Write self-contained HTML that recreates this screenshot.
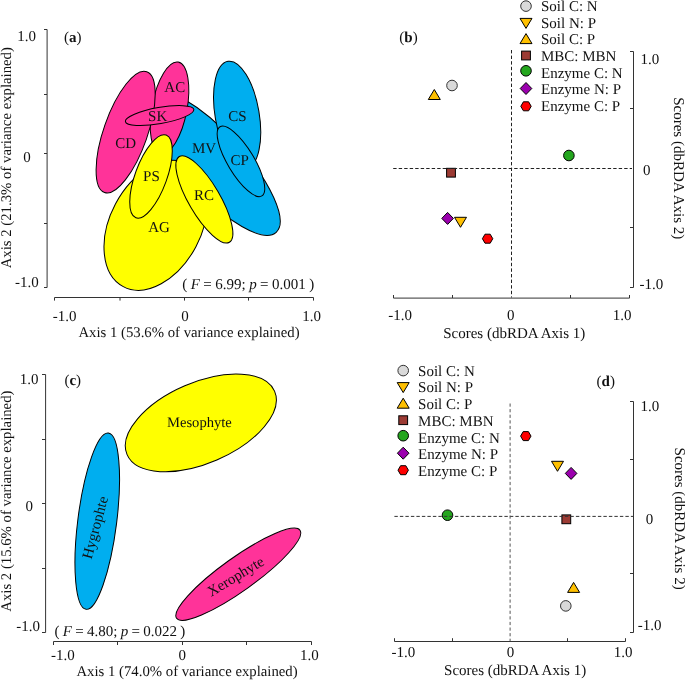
<!DOCTYPE html>
<html><head><meta charset="utf-8"><style>
html,body{margin:0;padding:0;background:#fff;}
svg{display:block;}
text{font-family:"Liberation Serif","Times New Roman",serif;font-size:15px;fill:#111;text-rendering:geometricPrecision;}
</style></head><body>
<svg width="685" height="681" viewBox="0 0 685 681">
<rect width="685" height="681" fill="#fff"/>
<ellipse cx="213.35" cy="163.12" rx="93.46" ry="30.46" transform="rotate(-132.26 213.35 163.12)" fill="#00AEEF" stroke="#000" stroke-width="1.0"/>
<ellipse cx="237.14" cy="114.87" rx="22.04" ry="54.36" transform="rotate(-9.72 237.14 114.87)" fill="#00AEEF" stroke="#000" stroke-width="1.0"/>
<ellipse cx="240.96" cy="161.34" rx="13.16" ry="40.43" transform="rotate(-31.17 240.96 161.34)" fill="#00AEEF" stroke="#000" stroke-width="1.0"/>
<ellipse cx="169.53" cy="107.91" rx="17.53" ry="46.71" transform="rotate(-169.27 169.53 107.91)" fill="#FF3399" stroke="#000" stroke-width="1.0"/>
<ellipse cx="125.64" cy="132.08" rx="63.95" ry="21.91" transform="rotate(-70.73 125.64 132.08)" fill="#FF3399" stroke="#000" stroke-width="1.0"/>
<ellipse cx="159.62" cy="115.54" rx="34.77" ry="8.05" transform="rotate(-10.08 159.62 115.54)" fill="#FF3399" stroke="#000" stroke-width="1.0"/>
<ellipse cx="155.67" cy="225.38" rx="45.54" ry="69.26" transform="rotate(-152.11 155.67 225.38)" fill="#FFFF00" stroke="#000" stroke-width="1.0"/>
<ellipse cx="151.02" cy="176.46" rx="44.07" ry="15.88" transform="rotate(-69.86 151.02 176.46)" fill="#FFFF00" stroke="#000" stroke-width="1.0"/>
<ellipse cx="204.37" cy="199.42" rx="49.64" ry="15.73" transform="rotate(-120.29 204.37 199.42)" fill="#FFFF00" stroke="#000" stroke-width="1.0"/>
<text x="164.3" y="91.6">AC</text>
<text x="148.1" y="121.3">SK</text>
<text x="115.3" y="147.8">CD</text>
<text x="228.3" y="120.8">CS</text>
<text x="192.0" y="152.9">MV</text>
<text x="230.6" y="165.2">CP</text>
<text x="143.1" y="181.1">PS</text>
<text x="194.1" y="199.9">RC</text>
<text x="148.2" y="232.2">AG</text>
<path d="M44 29.5H47.1V287.5H44 M44 94.5H47 M44 153.5H47 M44 223.5H47" fill="none" stroke="#333" stroke-width="1"/>
<path d="M54.5 300.6V297.5H313.5V300.6 M120 297.5V300.6 M184.5 297.5V300.6 M248.5 297.5V300.6" fill="none" stroke="#333" stroke-width="1"/>
<text x="17.3" y="41">1.0</text><text x="23.2" y="162">0</text><text x="38.8" y="287" text-anchor="end">-1.0</text>
<text x="52.8" y="321">-1.0</text><text x="181.3" y="321">0</text><text x="302.3" y="321">1.0</text>
<text x="189" y="337.2" text-anchor="middle" style="font-size:14.75px">Axis 1 (53.6% of variance explained)</text>
<text transform="translate(11 157.7) rotate(-90)" text-anchor="middle" style="font-size:14.75px">Axis 2 (21.3% of variance explained)</text>
<text x="64" y="41.7">(<tspan font-weight="bold">a</tspan>)</text>
<text x="182.3" y="288.6" word-spacing="-0.3">( <tspan font-style="italic">F</tspan> = 6.99; <tspan font-style="italic">p</tspan> = 0.001 )</text>
<circle cx="452" cy="85.5" r="5.3" fill="#D9D9D9" stroke="#333" stroke-width="1"/>
<path d="M428.3 99.5H440.3L434.3 89.5Z" fill="#FFC000" stroke="#000" stroke-width="1"/>
<circle cx="568.9" cy="155.5" r="5.3" fill="#24A61E" stroke="#000" stroke-width="1"/>
<rect x="446.6" y="168.29999999999998" width="8.8" height="8.8" fill="#9C3B34" stroke="#000" stroke-width="1"/>
<path d="M441.8 218.4L447.6 212.4L453.40000000000003 218.4L447.6 224.4Z" fill="#9B00AE" stroke="#000" stroke-width="1"/>
<path d="M454.5 217.3H466.5L460.5 227.3Z" fill="#FFC000" stroke="#000" stroke-width="1" stroke-linejoin="miter"/>
<polygon points="492.80,238.70 490.20,243.20 485.00,243.20 482.40,238.70 485.00,234.20 490.20,234.20" fill="#FF0000" stroke="#000" stroke-width="1"/>
<path d="M393.2 168.5H632" stroke="#222" stroke-width="1.1" stroke-dasharray="3.4 2.1"/>
<path d="M511.5 50V297.5" stroke="#222" stroke-width="1" stroke-dasharray="3.4 2.2"/>
<path d="M630 51.5H633.5V287.5H630 M630 108.5H633.5 M630 227.5H633.5" fill="none" stroke="#333" stroke-width="1"/>
<path d="M393.5 295V298.1H629.5V295 M452.5 298V295 M570.5 298V295" fill="none" stroke="#333" stroke-width="1"/>
<text x="640.5" y="64.4">1.0</text><text x="643" y="175">0</text><text x="639.5" y="288.6">-1.0</text>
<text x="388.3" y="319.6">-1.0</text><text x="507" y="320">0</text><text x="612.8" y="320">1.0</text>
<text x="514.2" y="338.4" text-anchor="middle">Scores (dbRDA Axis 1)</text>
<text transform="translate(674.4 168.2) rotate(90)" text-anchor="middle">Scores (dbRDA Axis 2)</text>
<text x="399.3" y="41.9">(<tspan font-weight="bold">b</tspan>)</text>
<circle cx="526" cy="6.1" r="5.3" fill="#D9D9D9" stroke="#333" stroke-width="1"/>
<text x="541" y="11.0">Soil C: N</text>
<path d="M520 18.4H532L526 28.4Z" fill="#FFC000" stroke="#000" stroke-width="1" stroke-linejoin="miter"/>
<text x="541" y="27.68">Soil N: P</text>
<path d="M520 43.6H532L526 33.6Z" fill="#FFC000" stroke="#000" stroke-width="1"/>
<text x="541" y="44.36">Soil C: P</text>
<rect x="521.6" y="51.1" width="8.8" height="8.8" fill="#9C3B34" stroke="#000" stroke-width="1"/>
<text x="541" y="61.04">MBC: MBN</text>
<circle cx="526" cy="70.8" r="5.3" fill="#24A61E" stroke="#000" stroke-width="1"/>
<text x="541" y="77.72">Enzyme C: N</text>
<path d="M520.2 88.5L526 82.5L531.8 88.5L526 94.5Z" fill="#9B00AE" stroke="#000" stroke-width="1"/>
<text x="541" y="94.4">Enzyme N: P</text>
<polygon points="531.20,106.30 528.60,110.80 523.40,110.80 520.80,106.30 523.40,101.80 528.60,101.80" fill="#FF0000" stroke="#000" stroke-width="1"/>
<text x="541" y="111.08">Enzyme C: P</text>
<ellipse cx="200.82" cy="422.90" rx="80.29" ry="40.47" transform="rotate(-23.30 200.82 422.90)" fill="#FFFF00" stroke="#000" stroke-width="1.0"/>
<ellipse cx="97.25" cy="521.19" rx="88.85" ry="19.44" transform="rotate(-82.78 97.25 521.19)" fill="#00AEEF" stroke="#000" stroke-width="1.0"/>
<ellipse cx="238.29" cy="574.30" rx="75.79" ry="16.68" transform="rotate(-35.52 238.29 574.30)" fill="#FF3399" stroke="#000" stroke-width="1.0"/>
<text x="199.4" y="427.2" text-anchor="middle" style="font-size:14.6px">Mesophyte</text>
<text transform="translate(95 527.5) rotate(-75)" text-anchor="middle" dy="5">Hygrophte</text>
<text transform="translate(235.5 576.3) rotate(-31)" text-anchor="middle" dy="5">Xerophyte</text>
<path d="M42 374.5H45.6V632.5H42 M42 439.5H45.6 M42 503.5H45.6 M42 568.5H45.6" fill="none" stroke="#333" stroke-width="1"/>
<path d="M53.5 645V641.5H311.5V645 M117.5 641.5V645 M182.5 641.5V645 M246.5 641.5V645" fill="none" stroke="#333" stroke-width="1"/>
<text x="19.7" y="384.2">1.0</text><text x="25.4" y="510.6">0</text><text x="39.9" y="630.7" text-anchor="end">-1.0</text>
<text x="51" y="659.5">-1.0</text><text x="178.5" y="659.5">0</text><text x="300" y="659.5">1.0</text>
<text x="187.05" y="676.3" text-anchor="middle" style="font-size:14.75px">Axis 1 (74.0% of variance explained)</text>
<text transform="translate(11 501.15) rotate(-90)" text-anchor="middle" style="font-size:14.75px">Axis 2 (15.6% of variance explained)</text>
<text x="64.4" y="385.2">(<tspan font-weight="bold">c</tspan>)</text>
<text x="54.4" y="635.9" word-spacing="-0.45">( <tspan font-style="italic">F</tspan> = 4.80; <tspan font-style="italic">p</tspan> = 0.022 )</text>
<polygon points="531.00,436.10 528.40,440.60 523.20,440.60 520.60,436.10 523.20,431.60 528.40,431.60" fill="#FF0000" stroke="#000" stroke-width="1"/>
<path d="M551.5 461.3H563.5L557.5 471.3Z" fill="#FFC000" stroke="#000" stroke-width="1" stroke-linejoin="miter"/>
<path d="M565.3000000000001 473.4L571.1 467.4L576.9 473.4L571.1 479.4Z" fill="#9B00AE" stroke="#000" stroke-width="1"/>
<circle cx="447.5" cy="515.2" r="5.3" fill="#24A61E" stroke="#000" stroke-width="1"/>
<rect x="561.9" y="514.9" width="8.8" height="8.8" fill="#9C3B34" stroke="#000" stroke-width="1"/>
<path d="M567.6 592.4H579.6L573.6 582.4Z" fill="#FFC000" stroke="#000" stroke-width="1"/>
<circle cx="565.8" cy="605.9" r="5.3" fill="#D9D9D9" stroke="#333" stroke-width="1"/>
<path d="M394.4 516.4H633" stroke="#333" stroke-width="1" stroke-dasharray="3.4 2.1"/>
<path d="M510.1 403.5V641" stroke="#555" stroke-width="1" stroke-dasharray="3.2 2.4"/>
<path d="M630 401.5H633.5V632.5H630 M630 459.5H633.5 M630 573.5H633.5" fill="none" stroke="#333" stroke-width="1"/>
<path d="M394.5 638.2V641.5H625.5V638.2 M452.5 641.5V638.2 M567.5 641.5V638.2" fill="none" stroke="#333" stroke-width="1"/>
<text x="640.5" y="411.2">1.0</text><text x="645.8" y="524">0</text><text x="637.8" y="630.1">-1.0</text>
<text x="391.6" y="657.1">-1.0</text><text x="506.8" y="657.1">0</text><text x="613.8" y="657.1">1.0</text>
<text x="515.1" y="675.2" text-anchor="middle">Scores (dbRDA Axis 1)</text>
<text transform="translate(674.7 518.6) rotate(90)" text-anchor="middle">Scores (dbRDA Axis 2)</text>
<text x="596.6" y="385.7">(<tspan font-weight="bold">d</tspan>)</text>
<circle cx="403.2" cy="370.6" r="5.3" fill="#D9D9D9" stroke="#333" stroke-width="1"/>
<text x="418.1" y="375.7">Soil C: N</text>
<path d="M397.2 382.6H409.2L403.2 392.6Z" fill="#FFC000" stroke="#000" stroke-width="1" stroke-linejoin="miter"/>
<text x="418.1" y="392.4">Soil N: P</text>
<path d="M397.2 408.2H409.2L403.2 398.2Z" fill="#FFC000" stroke="#000" stroke-width="1"/>
<text x="418.1" y="409.1">Soil C: P</text>
<rect x="398.8" y="415.8" width="8.8" height="8.8" fill="#9C3B34" stroke="#000" stroke-width="1"/>
<text x="418.1" y="425.8">MBC: MBN</text>
<circle cx="403.2" cy="435.7" r="5.3" fill="#24A61E" stroke="#000" stroke-width="1"/>
<text x="418.1" y="442.5">Enzyme C: N</text>
<path d="M397.4 453.2L403.2 447.2L409.0 453.2L403.2 459.2Z" fill="#9B00AE" stroke="#000" stroke-width="1"/>
<text x="418.1" y="459.2">Enzyme N: P</text>
<polygon points="408.40,470.20 405.80,474.70 400.60,474.70 398.00,470.20 400.60,465.70 405.80,465.70" fill="#FF0000" stroke="#000" stroke-width="1"/>
<text x="418.1" y="475.9">Enzyme C: P</text>
</svg>
</body></html>
